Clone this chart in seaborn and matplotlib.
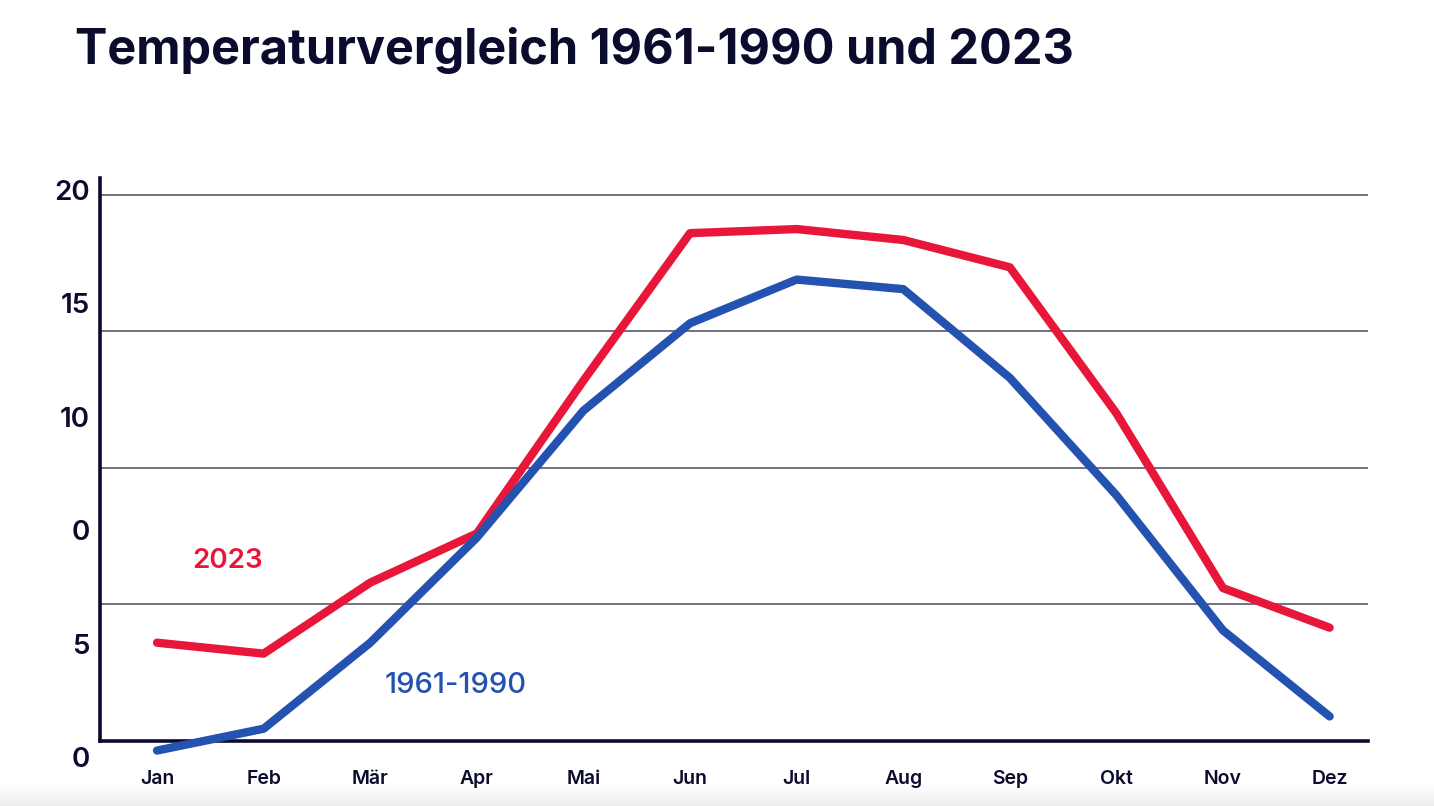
import numpy as np
import pandas as pd
import matplotlib.pyplot as plt
import seaborn as sns

# Monatsmittel
months = ['Jan', 'Feb', 'Mär', 'Apr', 'Mai', 'Jun', 'Jul', 'Aug', 'Sep', 'Okt', 'Nov', 'Dez']
temp_2023 = [3.6, 3.2, 5.8, 7.6, 13.2, 18.6, 18.75, 18.35, 17.35, 12.0, 5.6, 4.15]
temp_1961_1990 = [-0.35, 0.45, 3.6, 7.45, 12.1, 15.3, 16.9, 16.55, 13.3, 9.0, 4.05, 0.9]
ytick_labels = ['20', '15', '10', '0', '5', '0']
grid_values = [5, 10, 15, 20]

navy = '#0b0b2e'
red = '#e8173a'
blue = '#2352b0'

df = pd.DataFrame({
    'idx': list(range(len(months))) * 2,
    'temp': temp_2023 + temp_1961_1990,
    'series': ['2023'] * len(months) + ['1961-1990'] * len(months),
})

sns.set_style('white')
plt.rcParams['font.family'] = ['Inter', 'DejaVu Sans']

fig = plt.figure(figsize=(14.34, 8.06), dpi=100)

# leichter grauer Verlauf am unteren Bildrand
bg = fig.add_axes([0, 0, 1, 22 / 806], zorder=-1)
bg.imshow(np.linspace(1, 0, 50).reshape(-1, 1), aspect='auto', cmap='Greys_r',
          vmin=-6, vmax=1, extent=[0, 1, 0, 1])
bg.axis('off')

ax = fig.add_axes([100 / 1434, 1 - 741 / 806, 1268 / 1434, (741 - 178) / 806])
ax.patch.set_alpha(0)

for g in grid_values:
    ax.axhline(g, color='#4a4a60', linewidth=1.1, zorder=1)

sns.lineplot(data=df, x='idx', y='temp', hue='series',
             palette={'2023': red, '1961-1990': blue},
             linewidth=6, legend=False, ax=ax, clip_on=False, zorder=3)

ax.set_xlim(-0.535, 11.36)
ax.set_ylim(0, 20.62)
ax.set_xlabel('')
ax.set_ylabel('')

ax.set_xticks(range(len(months)))
ax.set_xticklabels(months, fontsize=14, fontweight='semibold', color=navy)
ax.tick_params(axis='x', length=0, pad=21)
ax.set_yticks([])

for side in ['top', 'right']:
    ax.spines[side].set_visible(False)
for side in ['left', 'bottom']:
    ax.spines[side].set_color(navy)
    ax.spines[side].set_linewidth(2.6)

# y-Beschriftung wie in der Vorlage (gleichmäßig verteilt)
for i, lab in enumerate(ytick_labels):
    y = 1 - (193 + i * 113.4) / 806
    fig.text(90 / 1434, y, lab, ha='right', va='center',
             fontsize=20, fontweight='semibold', color=navy)

ax.text(0.66, 6.6, '2023', color=red, fontsize=20, fontweight='semibold',
        ha='center', va='center')
ax.text(2.8, 2.05, '1961-1990', color=blue, fontsize=21, fontweight='medium',
        ha='center', va='center')

fig.text(75 / 1434, 1 - 50 / 806, 'Temperaturvergleich 1961-1990 und 2023',
         fontsize=35, fontweight='bold', color=navy, ha='left', va='center')

plt.savefig('out.png', dpi=100, facecolor='white')
plt.close()
